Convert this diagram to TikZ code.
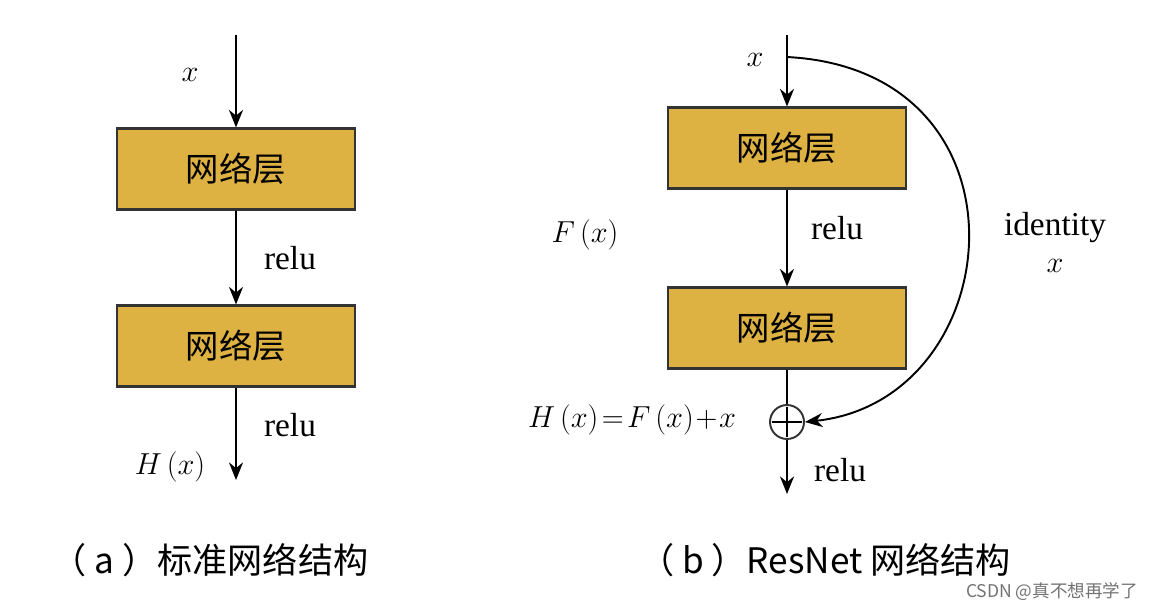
\documentclass[tikz,border=0pt]{standalone}
\usepackage{fontspec}
\setmainfont{Liberation Serif}
\newfontfamily\cjk{Noto Sans CJK SC}
\usetikzlibrary{arrows.meta, positioning, calc}
\definecolor{layergold}{HTML}{DDB142}

\begin{document}
\begin{tikzpicture}[
    x=0.02cm, y=-0.02cm,
    layer/.style={rectangle, draw=black!80, line width=1.2pt, fill=layergold, minimum width=4.76cm, minimum height=1.62cm, font=\cjk\fontsize{19}{19}\selectfont},
    arrow/.style={-{Stealth[length=10pt, width=8pt]}, line width=1.1pt},
    lbl/.style={font=\fontsize{19}{19}\selectfont},
    caption/.style={font=\cjk\fontsize{20}{20}\selectfont}
]
\useasboundingbox (0,0) rectangle (1158,611);

% (a) standard
\coordinate (ain) at (236,35);
\node[layer] (a1) at (236,169) {网络层};
\node[layer] (a2) at (236,346) {网络层};
\coordinate (aout) at (236,480);
\node[lbl] (ax) at (190,75) {$x$};
\node[lbl] (ar1) at (290,258) {relu};
\node[lbl] (ar2) at (290,425) {relu};
\node[lbl] (ah) at (170,467) {$H\,(x)$};
\draw[arrow] (ain) -- (a1);
\draw[arrow] (a1) -- (a2);
\draw[arrow] (a2) -- (aout);

% (b) resnet
\coordinate (bin) at (787,35);
\coordinate (bsplit) at (787,57);
\node[layer] (b1) at (787,148) {网络层};
\node[layer] (b2) at (787,328) {网络层};
\node[circle, draw=black!80, line width=1.1pt, minimum size=0.68cm, inner sep=0pt] (plus) at (787,422) {};
\draw[line width=1.1pt] ($(plus.north)+(0,3)$) -- ($(plus.south)-(0,3)$) ($(plus.west)+(3,0)$) -- ($(plus.east)-(3,0)$);
\coordinate (bout) at (787,494);
\node[lbl] (bx) at (755,60) {$x$};
\node[lbl] (br1) at (837,228) {relu};
\node[lbl] (bf) at (585,235) {$F\,(x)$};
\node[lbl] (bh) at (632,420) {$H\,(x)\!=\!F\,(x)\!+\!x$};
\node[lbl] (br2) at (840,470) {relu};
\node[lbl, align=center] (bid) at (1055,242) {identity\\[2pt]$x$};
\draw[arrow] (bin) -- (b1);
\draw[arrow] (b1) -- (b2);
\draw[line width=1.1pt] (b2) -- (plus);
\draw[arrow] (plus) -- (bout);
\draw[arrow] (bsplit) .. controls (1040,70) and (1010,400) .. (plus.east);

% captions
\node[caption] (capa) at (210,560) {（ a ）标准网络结构};
\node[caption] (capb) at (825,560) {（ b ）ResNet 网络结构};
\node[font=\cjk\fontsize{10}{10}\selectfont, text=black!55] (mark) at (1052,592) {CSDN @真不想再学了};
\end{tikzpicture}
\end{document}
